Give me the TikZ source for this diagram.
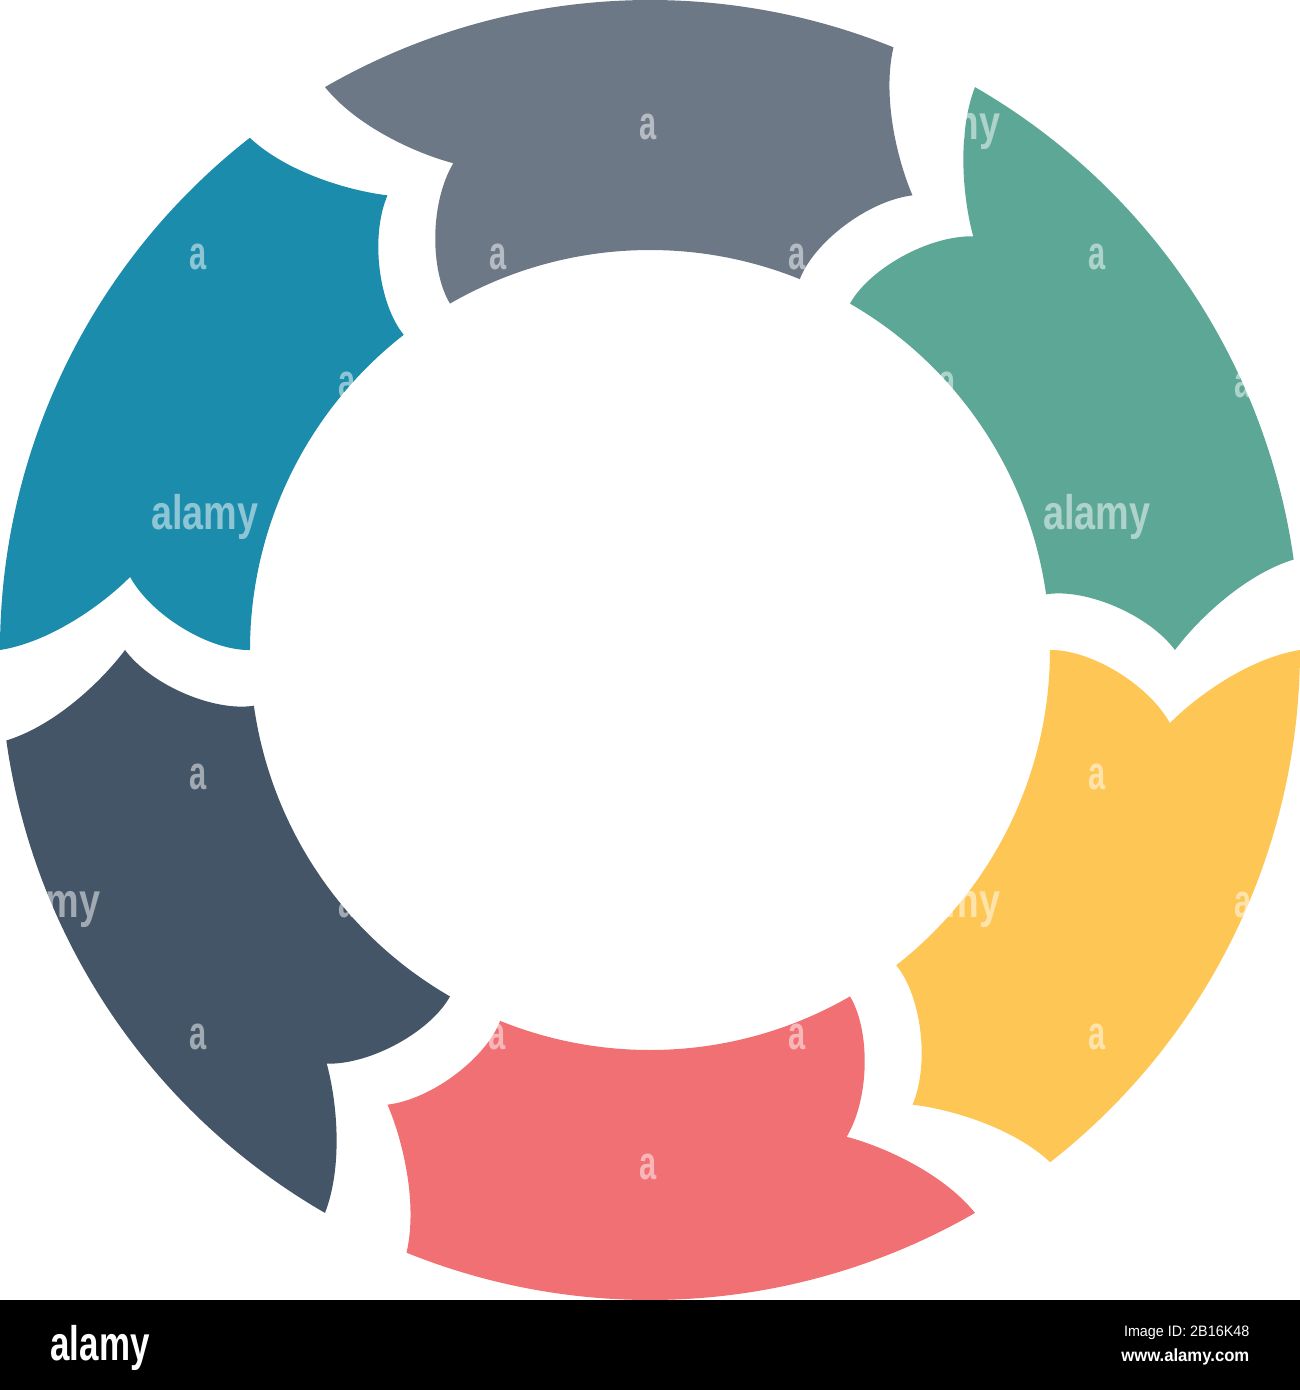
\documentclass[tikz,border=0pt]{standalone}
\usepackage{fontspec}
\newfontfamily\wmfont{Liberation Sans}
\definecolor{segteal}{HTML}{5DA797}
\definecolor{seggray}{HTML}{6C7886}
\definecolor{segblue}{HTML}{1B8CAB}
\definecolor{segslate}{HTML}{435566}
\definecolor{segred}{HTML}{F07073}
\definecolor{segyellow}{HTML}{FEC755}
\tikzset{
  segment/.pic={
    \fill[pic actions]
     (60:6.5) arc[start angle=60, end angle=8, radius=6.5]
      .. controls (7.27:6.008) and (3.34:5.499) .. (0:5.25)
      .. controls (4.13:4.993) and (8.11:4.394) .. (8:4)
      arc[start angle=8, end angle=60, radius=4]
      .. controls (60.11:4.394) and (56.13:4.993) .. (52:5.25)
      .. controls (55.34:5.499) and (59.27:6.008) .. (60:6.5) -- cycle;
  },
  wmbig/.style={white, opacity=0.5, inner sep=0pt, xscale=0.78, font=\wmfont\bfseries\fontsize{13.8}{14}\selectfont},
  wmsmall/.style={white, opacity=0.5, inner sep=0pt, xscale=0.65, font=\wmfont\bfseries\fontsize{13.5}{14}\selectfont},
  barlogo/.style={white, inner sep=0pt, xscale=0.72, font=\wmfont\bfseries\fontsize{13.8}{14}\selectfont},
  bartext/.style={white, inner sep=0pt, anchor=east, xscale=0.95, font=\wmfont\fontsize{4.3}{5}\selectfont}
}

\begin{document}
\begin{tikzpicture}
  \useasboundingbox (-6.5,-7.4) rectangle (6.5,6.5);

  % the six arrow segments, head tip of the base one at 0 degrees
  \pic[fill=segteal]              {segment};
  \pic[fill=seggray,   rotate=60]  {segment};
  \pic[fill=segblue,   rotate=120] {segment};
  \pic[fill=segslate,  rotate=180] {segment};
  \pic[fill=segred,    rotate=240] {segment};
  \pic[fill=segyellow, rotate=300] {segment};

  % watermark
  \node[wmbig] (wb1) at (-4.45, 1.33) {alamy};
  \node[wmbig] (wb2) at ( 4.47, 1.33) {alamy};
  \node[wmbig, anchor=base east] (wb3) at (-5.49,-2.673) {my};
  \node[wmbig] (wb4) at ( 2.97,-2.55) {alamy};
  \node[wmbig] (wb5) at ( 2.97, 5.23) {alamy};

  \node[wmsmall] (wa1)  at (-0.02, 5.23) {a};
  \node[wmsmall] (wa2)  at (-4.52, 3.93) {a};
  \node[wmsmall] (wa3)  at (-1.52, 3.93) {a};
  \node[wmsmall] (wa4)  at ( 1.47, 3.93) {a};
  \node[wmsmall] (wa5)  at ( 4.47, 3.93) {a};
  \node[wmsmall] (wa6)  at (-3.03, 2.65) {a};
  \node[wmsmall] (wa7)  at ( 2.97, 2.65) {a};
  \node[wmsmall] (wa8)  at ( 5.93, 2.65) {a};
  \node[wmsmall] (wa9)  at (-4.52,-1.27) {a};
  \node[wmsmall] (wa10) at ( 4.47,-1.27) {a};
  \node[wmsmall] (wa11) at (-3.03,-2.55) {a};
  \node[wmsmall] (wa12) at ( 5.93,-2.55) {a};
  \node[wmsmall] (wa13) at (-4.52,-3.87) {a};
  \node[wmsmall] (wa14) at (-1.53,-3.87) {a};
  \node[wmsmall] (wa15) at ( 1.47,-3.87) {a};
  \node[wmsmall] (wa16) at ( 4.47,-3.87) {a};
  \node[wmsmall] (wa17) at (-0.02,-5.17) {a};

  % bottom bar
  \fill[black] (-6.5,-7.4) rectangle (6.5,-6.5);
  \node[barlogo] (logo) at (-5.5,-6.975) {alamy};
  \node[bartext] (imgid) at (6.0,-6.83) {Image ID: 2B16K48};
  \node[bartext, font=\wmfont\bfseries\fontsize{5}{6}\selectfont] (site) at (6.0,-7.07) {www.alamy.com};
\end{tikzpicture}
\end{document}
